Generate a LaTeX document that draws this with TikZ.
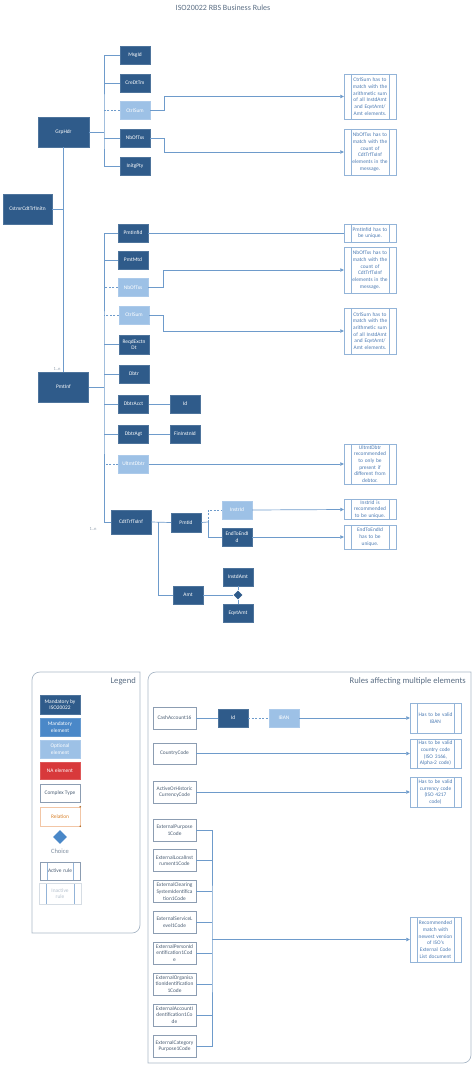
\documentclass[tikz,border=0pt]{standalone}
\usepackage{fontspec}
\setmainfont{Carlito}
\usetikzlibrary{arrows.meta, shapes.geometric, positioning}

\definecolor{dkblue}{HTML}{2F5B8A}
\definecolor{medblue}{HTML}{4A88C8}
\definecolor{ltblue}{HTML}{9DC1E6}
\definecolor{nared}{HTML}{D8393B}
\definecolor{linecol}{HTML}{6E9BCB}
\definecolor{rulecol}{HTML}{93B4D8}
\definecolor{ruletext}{HTML}{4C7BB3}
\definecolor{cplxcol}{HTML}{8C9DB2}
\definecolor{cplxtext}{HTML}{4B5E74}
\definecolor{panelcol}{HTML}{A9B7C6}
\definecolor{titlecol}{HTML}{5B6E84}
\definecolor{relcol}{HTML}{F2C6A6}
\definecolor{reltext}{HTML}{D9822B}
\definecolor{offcol}{HTML}{D6DDE4}
\definecolor{offtext}{HTML}{B5C1CD}

\begin{document}
\begin{tikzpicture}[x=1pt, y=-1pt,
  every node/.style={font=\fontsize{5.4}{6.7}\selectfont, inner sep=1pt, align=center},
  mand/.style={fill=dkblue, draw=dkblue!85!white, text=white, minimum width=30pt, minimum height=18pt},
  opt/.style={fill=ltblue, draw=ltblue!85!white, text=white, minimum width=30pt, minimum height=18pt},
  cplx/.style={draw=cplxcol, fill=white, text=cplxtext, minimum width=43pt, minimum height=22pt},
  rulebox/.style={draw=rulecol, fill=white, text=ruletext, text width=37pt, minimum width=52pt,
    path picture={\draw[rulecol]
      ([xshift=7pt]path picture bounding box.north west) -- ([xshift=7pt]path picture bounding box.south west)
      ([xshift=-7pt]path picture bounding box.north east) -- ([xshift=-7pt]path picture bounding box.south east);}},
  link/.style={draw=linecol, line width=0.7pt},
  optlink/.style={link, dashed, dash pattern=on 2pt off 1.5pt},
  ruleto/.style={link, -{Triangle[length=3.5pt, width=3.5pt]}},
  card/.style={text=titlecol!70!white, font=\fontsize{4.5}{5}\selectfont},
  paneltitle/.style={text=titlecol, font=\fontsize{8.6}{10}\selectfont},
  panel/.style={draw=panelcol, line width=0.7pt}]

\useasboundingbox (0,0) rectangle (474,1067);

\node[text=titlecol, font=\fontsize{8}{9}\selectfont] (title) at (223,8) {ISO20022 RBS Business Rules};

% group header
\node[mand, minimum width=51pt, minimum height=30pt] (GrpHdr) at (63.5,132) {GrpHdr};
\node[mand] (MsgId) at (135,55) {MsgId};
\node[mand] (CreDtTm) at (135,83) {CreDtTm};
\node[opt] (CtrlSumA) at (135,110.5) {CtrlSum};
\node[mand] (NbOfTxsA) at (135,138) {NbOfTxs};
\node[mand] (InitgPty) at (135,166) {InitgPty};
\coordinate (gbus) at (104,132);

\node[rulebox, minimum height=45pt] (ruleCtrlA) at (370,96.5) {CtrlSum has to\\match with the\\arithmetic sum\\of all InstdAmt\\and EqvtAmt/\\Amt elements.};
\node[rulebox, minimum height=46pt] (ruleNbA) at (370,152) {NbOfTxs has to\\match with the\\count of\\CdtTrfTxInf\\elements in the\\message.};

\draw[link] (GrpHdr.east) -- (gbus);
\draw[link] (MsgId.west) -| (gbus) |- (InitgPty.west);
\draw[link] (CreDtTm.west) -- (CreDtTm.west -| gbus);
\draw[optlink] (CtrlSumA.west) -- (CtrlSumA.west -| gbus);
\draw[link] (NbOfTxsA.west) -- (NbOfTxsA.west -| gbus);
\draw[ruleto] (CtrlSumA.east) -- ++(14,0) |- (ruleCtrlA.west);
\draw[ruleto] (NbOfTxsA.east) -- ++(14,0) |- (ruleNbA.west);

% root
\node[mand, minimum width=49pt, minimum height=30pt] (CstmrCdtTrfInitn) at (27.5,209) {CstmrCdtTrfInitn};
\node[mand, minimum width=50pt, minimum height=30pt] (PmtInf) at (63.5,387) {PmtInf};
\draw[link] (GrpHdr.south) -- (PmtInf.north);
\draw[link] (CstmrCdtTrfInitn.east) -- (CstmrCdtTrfInitn.east -| GrpHdr.south);
\node[card] (cardPmtInf) at (57,369) {1..n};

% payment information
\node[mand] (PmtInfId) at (133,233) {PmtInfId};
\node[mand] (PmtMtd) at (133,260) {PmtMtd};
\node[opt] (NbOfTxsB) at (133,287.5) {NbOfTxs};
\node[opt] (CtrlSumB) at (134,315) {CtrlSum};
\node[mand, minimum height=19pt] (ReqdExctnDt) at (134,344.5) {ReqdExctn\\Dt};
\node[mand] (Dbtr) at (134,374) {Dbtr};
\node[mand] (DbtrAcct) at (133.5,404) {DbtrAcct};
\node[mand] (DbtrAcctId) at (185,404) {Id};
\node[mand] (DbtrAgt) at (133.5,434) {DbtrAgt};
\node[mand] (FinInstnId) at (185,434) {FinInstnId};
\node[opt] (UltmtDbtr) at (133.5,464) {UltmtDbtr};
\node[mand, minimum width=40pt, minimum height=24pt] (CdtTrfTxInf) at (131,522) {CdtTrfTxInf};
\coordinate (pbus) at (104,387);
\node[card] (cardCdtTrf) at (93,529) {1..n};

\draw[link] (PmtInf.east) -- (pbus);
\draw[link] (PmtInfId.west) -| (pbus) |- (CdtTrfTxInf.west);
\draw[link] (PmtMtd.west) -- (PmtMtd.west -| pbus);
\draw[optlink] (NbOfTxsB.west) -- (NbOfTxsB.west -| pbus);
\draw[optlink] (CtrlSumB.west) -- (CtrlSumB.west -| pbus);
\draw[link] (ReqdExctnDt.west) -- (ReqdExctnDt.west -| pbus);
\draw[link] (Dbtr.west) -- (Dbtr.west -| pbus);
\draw[link] (DbtrAcct.west) -- (DbtrAcct.west -| pbus);
\draw[link] (DbtrAgt.west) -- (DbtrAgt.west -| pbus);
\draw[optlink] (UltmtDbtr.west) -- (UltmtDbtr.west -| pbus);
\draw[link] (DbtrAcct) -- (DbtrAcctId);
\draw[link] (DbtrAgt) -- (FinInstnId);

\node[rulebox, minimum height=18pt] (rulePmtInfId) at (370,233) {PmtInfId has to\\be unique.};
\node[rulebox, minimum height=46pt] (ruleNbB) at (370,270) {NbOfTxs has to\\match with the\\count of\\CdtTrfTxInf\\elements in the\\message.};
\node[rulebox, minimum height=46pt] (ruleCtrlB) at (370,331) {CtrlSum has to\\match with the\\arithmetic sum\\of all InstdAmt\\and EqvtAmt/\\Amt elements.};
\node[rulebox, minimum height=40pt] (ruleUltmt) at (370,464) {UltmtDbtr\\recommended\\to only be\\present if\\different from\\debtor.};

\draw[link] (PmtInfId.east) -- (rulePmtInfId.west);
\draw[ruleto] (NbOfTxsB.east) -- ++(15,0) |- (ruleNbB.west);
\draw[ruleto] (CtrlSumB.east) -- ++(14,0) |- (ruleCtrlB.west);
\draw[ruleto] (UltmtDbtr.east) -- (ruleUltmt.west);

% credit transfer transaction
\node[mand, minimum height=19pt] (PmtId) at (186,522.5) {PmtId};
\node[opt] (InstrId) at (237,510) {InstrId};
\node[mand] (EndToEndId) at (237,537) {EndToEndI\\d};
\node[mand] (Amt) at (188,595) {Amt};
\node[diamond, fill=dkblue, minimum size=9pt, inner sep=0pt] (choice) at (238,595) {};
\node[mand] (InstdAmt) at (238,577) {InstdAmt};
\node[mand] (EqvtAmt) at (238,613) {EqvtAmt};
\coordinate (tbus) at (158,522);
\coordinate (idbus) at (208,522);

\draw[link] (CdtTrfTxInf.east) -- (PmtId.west);
\draw[link] (tbus) |- (Amt.west);
\draw[link] (PmtId.east) -- (idbus);
\draw[optlink] (idbus) |- (InstrId.west);
\draw[link] (idbus) |- (EndToEndId.west);
\draw[link] (Amt.east) -- (choice.west);
\draw[link] (InstdAmt.south) -- (choice.north);
\draw[link] (choice.south) -- (EqvtAmt.north);

\node[rulebox, minimum height=19pt] (ruleInstrId) at (370,509.5) {InstrId is\\recommended\\to be unique.};
\node[rulebox, minimum height=24pt] (ruleEndToEnd) at (370,537) {EndToEndId\\has to be\\unique.};
\draw[ruleto] (InstrId.east) -- (ruleInstrId.west);
\draw[ruleto] (EndToEndId.east) -- (ruleEndToEnd.west);

% legend
\draw[panel] (32,933) -- (32,680) arc[start angle=180, end angle=270, radius=8] -- (140,672) -- (140,925) arc[start angle=0, end angle=90, radius=8] -- cycle;
\node[anchor=east, paneltitle] (legendtitle) at (137,681) {Legend};
\node[mand, minimum width=40pt, minimum height=19pt] (lgIso) at (60,704.5) {Mandatory by\\ISO20022};
\node[fill=medblue, draw=medblue!85!white, text=white, minimum width=40pt, minimum height=18pt] (lgMand) at (60,727) {Mandatory\\element};
\node[opt, minimum width=40pt] (lgOpt) at (60,749) {Optional\\element};
\node[fill=nared, draw=nared!85!white, text=white, minimum width=40pt, minimum height=17pt] (lgNa) at (60,770.5) {NA element};
\node[cplx, minimum width=40pt, minimum height=18pt] (lgCplx) at (60,793) {Complex Type};
\node[draw=relcol, fill=white, text=reltext, minimum width=40pt, minimum height=19pt] (lgRel) at (60,816.5) {Relation};
\fill[reltext!80!black] (lgRel.north east) circle (0.9pt);
\fill[reltext!80!black] (lgRel.south east) circle (0.9pt);
\node[diamond, fill=medblue, minimum size=14pt, inner sep=0pt] (lgChoice) at (60,837) {};
\node[text=titlecol!80!white, font=\fontsize{6.5}{7}\selectfont] (lgChoiceText) at (60,851) {Choice};
\node[rulebox, text width=26pt, minimum width=40pt, minimum height=18pt, text=cplxtext, draw=cplxcol] (lgActive) at (60,871) {Active rule};
\node[rulebox, text width=28pt, minimum width=42pt, minimum height=21pt, text=offtext, draw=offcol] (lgInactive) at (60,893.5) {Inactive\\rule};

% rules affecting multiple elements
\draw[panel] (148,1063) -- (148,680) arc[start angle=180, end angle=270, radius=8] -- (471,672) -- (471,1055) arc[start angle=0, end angle=90, radius=8] -- cycle;
\node[anchor=east, paneltitle] (rulestitle) at (467,681) {Rules affecting multiple elements};

\node[cplx] (CashAccount16) at (174.5,718) {CashAccount16};
\node[mand] (CashId) at (233,718) {Id};
\node[opt] (IBAN) at (284,718) {IBAN};
\node[cplx, minimum height=21pt] (CountryCode) at (174.5,753.5) {CountryCode};
\node[cplx] (CurrencyCode) at (174.5,792) {ActiveOrHistoric\\CurrencyCode};

\node[rulebox, minimum width=51pt, minimum height=30pt] (ruleIban) at (435.5,718) {Has to be valid\\IBAN};
\node[rulebox, minimum width=51pt, minimum height=29pt] (ruleCountry) at (435.5,753.5) {Has to be valid\\country code\\(ISO 3166,\\Alpha-2 code)};
\node[rulebox, minimum width=51pt, minimum height=30pt] (ruleCurrency) at (435.5,792) {Has to be valid\\currency code\\(ISO 4217\\code)};

\draw[link] (CashAccount16.east) -- (CashId.west);
\draw[optlink] (CashId.east) -- (IBAN.west);
\draw[ruleto] (IBAN.east) -- (ruleIban.west);
\draw[ruleto] (CountryCode.east) -- (ruleCountry.west);
\draw[ruleto] (CurrencyCode.east) -- (ruleCurrency.west);

\node[cplx] (extPurp) at (174.5,830) {ExternalPurpose\\1Code};
\node[cplx] (extLcl) at (174.5,860.5) {ExternalLocalInst\\rument1Code};
\node[cplx] (extClr) at (174.5,891.5) {ExternalClearing\\SystemIdentifica\\tion1Code};
\node[cplx] (extSvc) at (174.5,922) {ExternalServiceL\\evel1Code};
\node[cplx] (extPrsn) at (174.5,953) {ExternalPersonId\\entification1Cod\\e};
\node[cplx] (extOrg) at (174.5,984) {ExternalOrganisa\\tionIdentification\\1Code};
\node[cplx] (extAcct) at (174.5,1015) {ExternalAccountI\\dentification1Co\\de};
\node[cplx] (extCtgy) at (174.5,1046) {ExternalCategory\\Purpose1Code};
\coordinate (xbus) at (212,939.5);

\node[rulebox, minimum width=51pt, minimum height=45pt] (ruleExt) at (435.5,939.5) {Recommended\\match with\\newest version\\of ISO's\\External Code\\List document};

\draw[link] (extPurp.east) -| (xbus) |- (extCtgy.east);
\draw[link] (extLcl.east) -- (extLcl.east -| xbus);
\draw[link] (extClr.east) -- (extClr.east -| xbus);
\draw[link] (extSvc.east) -- (extSvc.east -| xbus);
\draw[link] (extPrsn.east) -- (extPrsn.east -| xbus);
\draw[link] (extOrg.east) -- (extOrg.east -| xbus);
\draw[link] (extAcct.east) -- (extAcct.east -| xbus);
\draw[ruleto] (xbus) -- (ruleExt.west);

\end{tikzpicture}
\end{document}
